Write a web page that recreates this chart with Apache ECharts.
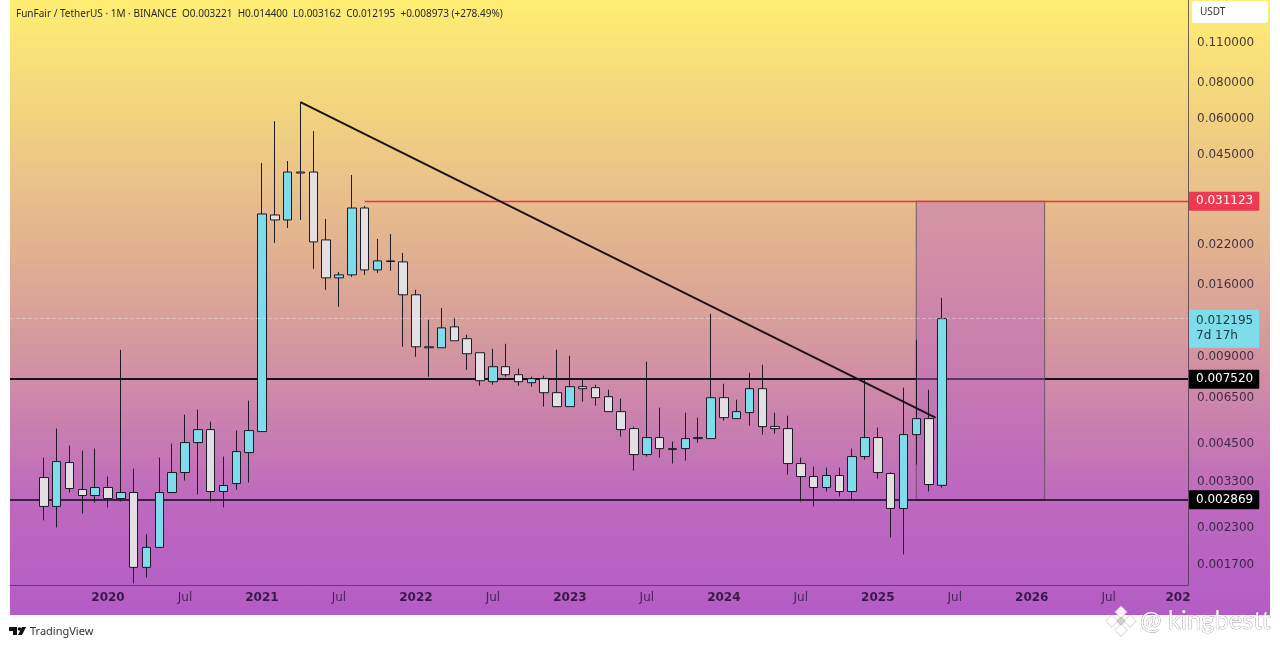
<!DOCTYPE html>
<html>
<head>
<meta charset="utf-8">
<script src="https://cdn.jsdelivr.net/npm/echarts@6/dist/echarts.min.js"></script>
<style>html,body{margin:0;padding:0;background:#fff}#c{width:1280px;height:646px}</style>
</head>
<body>
<div id="c"></div>
<script>
// Monthly candles, Aug 2019 (index 0) to Jun 2025 (index 70)
const opens = [.003428,.002721,.003863,.003115,.002969,.003165,.002899,.003041,.001673,.001962,.003041,.003568,.004531,.005027,.003066,.003268,.004185,.004947,.02791,.02682,.03933,.03933,.02287,.01689,.0173,.02951,.018,.01934,.01919,.01475,.009741,.009663,.01142,.01039,.009288,.00737,.008307,.007794,.007312,.007549,.006751,.006038,.007082,.007026,.006539,.005803,.005067,.004118,.004716,.004319,.004319,.004716,.004679,.006487,.005487,.005757,.00697,.005148,.005067,.003833,.003455,.003165,.003483,.003066,.004053,.004716,.003539,.002678,.00483,.005487,.003221];
const highs = [.004021,.005067,.004424,.004252,.004319,.003455,.009513,.003683,.002176,.004021,.004495,.005665,.005896,.005358,.004053,.004987,.006334,.04226,.05906,.04294,.06872,.05453,.02704,.01772,.0384,.02999,.02304,.02398,.02061,.01535,.01208,.01329,.01228,.01072,.009288,.009586,.009977,.008175,.00767,.007732,.009513,.009068,.007489,.007196,.006915,.006436,.005148,.008645,.00599,.004568,.005757,.005531,.01268,.007254,.006385,.007919,.00844,.005757,.00562,.004021,.003742,.003712,.003712,.004319,.007549,.005107,.003568,.007026,.0103,.006915,.0144];
const lows = [.002434,.002301,.003041,.002573,.002809,.002699,.002831,.001472,.001544,.001962,.003041,.003347,.002993,.002831,.002699,.003115,.003294,.004947,.02233,.02516,.02682,.01815,.01535,.0134,.01702,.0173,.01757,.01786,.009741,.008996,.00767,.009663,.01022,.008111,.007139,.007196,.00767,.007139,.007082,.006038,.006038,.006038,.006284,.006087,.005803,.004754,.003625,.004053,.004021,.003833,.003926,.004531,.004679,.005401,.005487,.00519,.00483,.004869,.003511,.002831,.002721,.003066,.002946,.002854,.003957,.003401,.002125,.001855,.003802,.003066,.003162];
const closes = [.002721,.003894,.00314,.002969,.003165,.002899,.003041,.001673,.001962,.003041,.003568,.004531,.005027,.003066,.003216,.004218,.004987,.02814,.02682,.03933,.03902,.02251,.01689,.0173,.02951,.018,.01934,.01925,.01475,.009741,.009663,.01133,.01022,.009214,.00743,.008307,.007794,.00737,.007549,.006751,.006038,.007082,.00697,.006487,.005803,.005027,.004118,.004716,.004319,.004285,.004679,.004679,.006487,.005531,.005803,.00697,.005148,.005067,.003833,.003455,.003165,.003483,.003066,.004053,.004716,.003568,.002678,.00483,.005487,.003242,.012195];

const yTicks = [0.11,0.08,0.06,0.045,0.022,0.016,0.009,0.0065,0.0045,0.0033,0.0023,0.0017];
const xTickIndex = [5,11,17,23,29,35,41,47,53,59,65,71,77,83,88.4];
const xTickLabels = ['2020','Jul','2021','Jul','2022','Jul','2023','Jul','2024','Jul','2025','Jul','2026','Jul','202'];

const resistance = 0.031123, midLevel = 0.00752, support = 0.002869, lastPrice = 0.012195;
const trendStart = [20, 0.06872], trendEnd = [69.5, 0.005531];
const resistanceStartIndex = 25;
const boxIndex = [68, 78];
const xMin = -2.64, xMax = 89.18;
const header = 'FunFair / TetherUS · 1M · BINANCE  O0.003221  H0.014400  L0.003162  C0.012195  +0.008973 (+278.49%)';

const FONT = 'DejaVu Sans';
function tag(text, bg, color) {
  return { show:true, position:'end', distance:1, formatter:text, backgroundColor:bg, color:color,
           fontFamily:FONT, fontSize:12, padding:[4,6,3,7], borderRadius:1 };
}
function hLine(v, extra, from) {
  return [{coord:[from===undefined?xMin:from,v], ...extra}, {coord:[xMax,v]}];
}
const chart = echarts.init(document.getElementById('c'), null, {renderer:'canvas'});
const noSym = { symbol:['none','none'], silent:true, animation:false };
chart.setOption({
  animation:false,
  title:{ text:header, left:11, top:4, textStyle:{ fontFamily:'Noto Sans', fontSize:10, fontWeight:'normal', color:'#2a2a2a' } },
  grid:{ left:10, right:92, top:0, height:585 },
  xAxis:{ type:'value', min:xMin, max:xMax, splitLine:{show:false}, axisTick:{show:false},
    axisLine:{ show:true, onZero:false, lineStyle:{color:'rgba(70,40,90,0.7)', width:1} },
    axisLabel:{ customValues:xTickIndex, margin:7, showMinLabel:true, showMaxLabel:true,
      formatter:(v)=>{ const s = xTickLabels[xTickIndex.indexOf(v)]||''; return s==='Jul' ? '{m|Jul}' : '{y|'+s+'}'; },
      rich:{ y:{fontFamily:FONT,fontSize:12,fontWeight:'bold',color:'rgba(40,20,60,0.9)'}, m:{fontFamily:FONT,fontSize:12,color:'rgba(40,20,60,0.8)'} } } },
  yAxis:{ type:'log', logBase:10, min:0.001453, max:0.1554, position:'right', splitLine:{show:false}, axisTick:{show:false},
    axisLine:{ show:true, onZero:false, lineStyle:{color:'rgba(70,50,70,0.75)', width:1} },
    axisLabel:{ customValues:yTicks, margin:9, padding:[5,0,0,0], fontFamily:FONT, fontSize:12, color:'rgba(40,25,50,0.85)',
      showMinLabel:true, showMaxLabel:true, formatter:(v)=>Number(v).toFixed(6) } },
  graphic:[
    { type:'rect', z:-10, silent:true, shape:{x:10,y:0,width:1260,height:615},
      style:{ fill:new echarts.graphic.LinearGradient(0,0,0,1,[
        {offset:0,color:'rgb(255,238,115)'},{offset:0.163,color:'rgb(243,214,125)'},{offset:0.325,color:'rgb(232,190,140)'},
        {offset:0.488,color:'rgb(218,165,150)'},{offset:0.65,color:'rgb(205,135,170)'},{offset:0.813,color:'rgb(190,105,190)'},{offset:1,color:'rgb(180,92,198)'}]) } },
    { type:'rect', z:20, shape:{x:1192,y:1,width:76,height:22,r:3}, style:{fill:'#fff'} },
    { type:'text', z:21, style:{x:1200,y:12,text:'USDT',fontFamily:'Noto Sans',fontSize:10,fill:'#333',verticalAlign:'middle'} },
    { type:'text', z:21, style:{x:30,y:632,text:'TradingView',fontFamily:'Noto Sans',fontSize:11,fill:'#333',verticalAlign:'middle'} },
    { type:'polygon', z:21, shape:{points:[[9,627],[17,627],[17,635],[13,635],[13,631],[9,631]]}, style:{fill:'#111'} },
    { type:'circle', z:21, shape:{cx:19.5,cy:629,r:1.8}, style:{fill:'#111'} },
    { type:'polygon', z:21, shape:{points:[[22,627],[26,627],[22,635],[18,635]]}, style:{fill:'#111'} },
    { type:'text', z:30, style:{x:1140,y:621,text:'@ kingbestt',fontFamily:'Lato',fontSize:25.5,fill:'rgba(255,255,255,0.92)',stroke:'rgba(110,110,110,0.75)',lineWidth:0.7,verticalAlign:'middle'} },
    ...[[1121,612],[1112,621],[1130,621],[1121,630],[1121,621]].map((p,i)=>({ type:'rect', z:30, x:p[0], y:p[1], rotation:Math.PI/4,
       shape:i===4?{x:-3,y:-3,width:6,height:6}:{x:-4.5,y:-4.5,width:9,height:9}, style:{fill:i===4?'rgba(190,190,190,0.7)':'rgba(255,255,255,0.92)',stroke:'rgba(130,130,130,0.6)',lineWidth:0.6} }))
  ],
  series:[
    { type:'candlestick', name:'FUN/USDT', z:2, barWidth:9, clip:false,
      data:opens.map((o,i)=>[i,o,closes[i],lows[i],highs[i]]),
      itemStyle:{ color:'#7fdcea', color0:'#e2e0e2', borderColor:'#1c1a26', borderColor0:'#1c1a26', borderWidth:1 },
      markArea:{ z:1, silent:true, animation:false,
        itemStyle:{ color:'rgba(185,95,195,0.42)', borderColor:'rgba(90,80,90,0.7)', borderWidth:1.2 },
        data:[[{coord:[boxIndex[0],resistance]},{coord:[boxIndex[1],support]}]] } },
    { type:'line', name:'mid', z:0, data:[], markLine:{ ...noSym, z:0,
        lineStyle:{color:'#1a0f1f',width:2,type:'solid'},
        data:[hLine(midLevel,{label:tag('0.007520','#000','#fff')})] } },
    { type:'line', name:'sup', z:0, data:[], markLine:{ ...noSym, z:1.5,
        lineStyle:{color:'#14091a',width:1.6,type:'solid'},
        data:[hLine(support,{label:tag('0.002869','#000','#fff')})] } },
    { type:'line', name:'over', z:5, data:[], markLine:{ ...noSym, z:5,
        data:[
          hLine(lastPrice,{lineStyle:{color:'rgba(255,255,255,0.3)',width:1,type:'dashed'},
           label:{...tag('0.012195\n7d 17h','#7fdcea','#203a48'),lineHeight:15,padding:[4,6,4,7],offset:[0,10]}}),
          hLine(resistance,{lineStyle:{color:'#f0303f',width:1.3,type:'solid'},label:tag('0.031123','#ee3a50','#fff')},resistanceStartIndex),
          [{coord:trendStart,lineStyle:{color:'#1a1218',width:2,type:'solid'},label:{show:false}},{coord:trendEnd}]
        ] } }
  ]
});
</script>
</body>
</html>
